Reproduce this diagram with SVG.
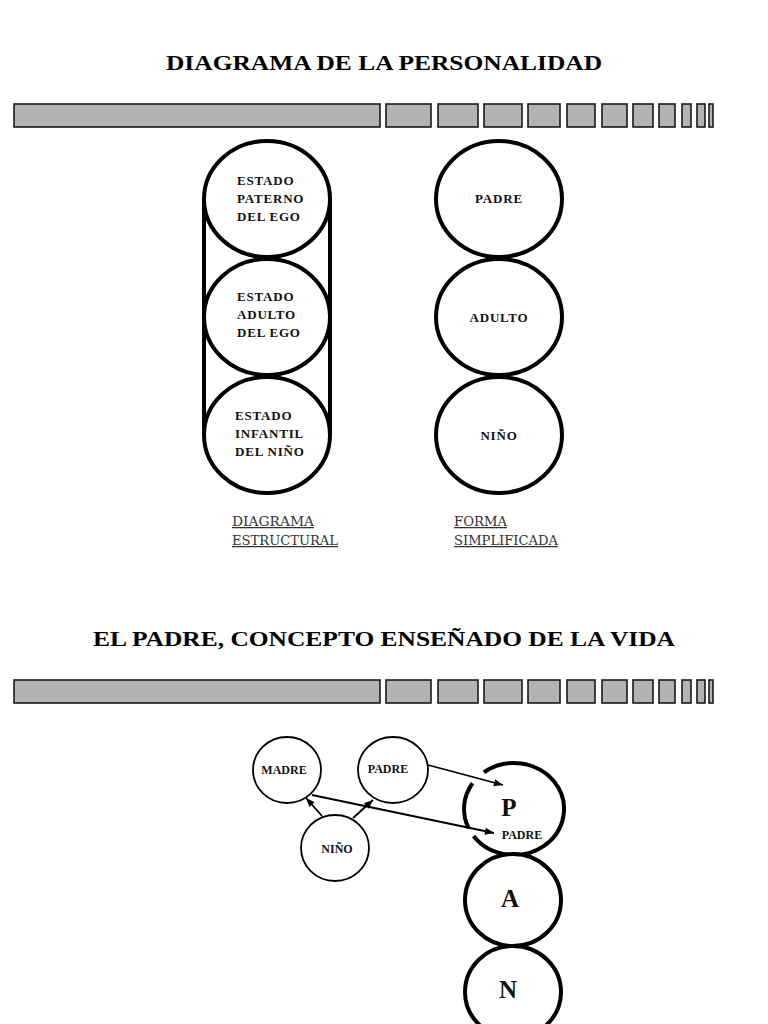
<svg xmlns="http://www.w3.org/2000/svg" width="768" height="1024" viewBox="0 0 768 1024">
<defs>
<style>
.title{font-family:"Liberation Serif",serif;font-weight:bold;font-size:22px;fill:#000;text-anchor:middle}
.seg{fill:#b3b3b3;stroke:#1a1a1a;stroke-width:1.6}
.big{fill:#fff;stroke:#000;stroke-width:4}
.lbl{font-family:"Liberation Serif",serif;font-weight:bold;font-size:13px;fill:#111;letter-spacing:0.8px}
.mid{text-anchor:middle}
.cap{font-family:"DejaVu Serif",serif;font-size:12.5px;fill:#333;text-decoration:underline}
.small{fill:#fff;stroke:#000;stroke-width:1.8}
.sl{font-family:"Liberation Serif",serif;font-weight:bold;font-size:12px;fill:#111;text-anchor:middle}
.con{stroke:#000;stroke-width:1.8;fill:none;marker-end:url(#ah)}
.arc{fill:none;stroke:#000;stroke-width:4}
.letter{font-family:"Liberation Serif",serif;font-weight:bold;font-size:25px;fill:#111;text-anchor:middle}
</style>
<marker id="ah" viewBox="0 0 10 10" refX="10" refY="5" markerWidth="11" markerHeight="9" orient="auto" markerUnits="userSpaceOnUse">
<path d="M0,1 L10,5 L0,9 Z" fill="#000"/>
</marker>
<g id="barshape">
<rect class="seg" x="14" y="0" width="366" height="23"/>
<rect class="seg" x="386" y="0" width="45" height="23"/>
<rect class="seg" x="438" y="0" width="40" height="23"/>
<rect class="seg" x="484" y="0" width="38" height="23"/>
<rect class="seg" x="528" y="0" width="32" height="23"/>
<rect class="seg" x="567" y="0" width="28" height="23"/>
<rect class="seg" x="602" y="0" width="25" height="23"/>
<rect class="seg" x="633" y="0" width="20" height="23"/>
<rect class="seg" x="659" y="0" width="16" height="23"/>
<rect class="seg" x="682" y="0" width="9" height="23"/>
<rect class="seg" x="697" y="0" width="8" height="23"/>
<rect class="seg" x="709" y="0" width="4" height="23"/>
</g>
</defs>
<rect width="768" height="1024" fill="#fff"/>

<text class="title" x="384" y="70" textLength="436" lengthAdjust="spacingAndGlyphs">DIAGRAMA DE LA PERSONALIDAD</text>
<use href="#barshape" x="0" y="104"/>

<g id="estructural">
<line x1="204" y1="199" x2="204" y2="435" stroke="#000" stroke-width="4"/>
<line x1="330" y1="199" x2="330" y2="435" stroke="#000" stroke-width="4"/>
<g id="paterno">
<ellipse class="big" cx="267" cy="199" rx="63" ry="58"/>
<text class="lbl" x="237" y="185">ESTADO</text>
<text class="lbl" x="237" y="203">PATERNO</text>
<text class="lbl" x="237" y="221">DEL EGO</text>
</g>
<g id="adulto-ego">
<ellipse class="big" cx="267" cy="317" rx="63" ry="58"/>
<text class="lbl" x="237" y="301">ESTADO</text>
<text class="lbl" x="237" y="319">ADULTO</text>
<text class="lbl" x="237" y="337">DEL EGO</text>
</g>
<g id="infantil">
<ellipse class="big" cx="267" cy="435" rx="63" ry="58"/>
<text class="lbl" x="235" y="420">ESTADO</text>
<text class="lbl" x="235" y="438">INFANTIL</text>
<text class="lbl" x="235" y="456">DEL NIÑO</text>
</g>
</g>

<g id="simplificada">
<g id="s-padre">
<ellipse class="big" cx="499" cy="199" rx="63" ry="58"/>
<text class="lbl mid" x="499" y="203">PADRE</text>
</g>
<g id="s-adulto">
<ellipse class="big" cx="499" cy="317" rx="63" ry="58"/>
<text class="lbl mid" x="499" y="322">ADULTO</text>
</g>
<g id="s-nino">
<ellipse class="big" cx="499" cy="435" rx="63" ry="58"/>
<text class="lbl mid" x="499" y="440">NIÑO</text>
</g>
</g>

<text class="cap" x="232" y="526" textLength="82" lengthAdjust="spacingAndGlyphs">DIAGRAMA</text>
<text class="cap" x="232" y="545" textLength="106" lengthAdjust="spacingAndGlyphs">ESTRUCTURAL</text>
<text class="cap" x="454" y="526" textLength="53" lengthAdjust="spacingAndGlyphs">FORMA</text>
<text class="cap" x="454" y="545" textLength="104" lengthAdjust="spacingAndGlyphs">SIMPLIFICADA</text>

<text class="title" x="384" y="646" textLength="582" lengthAdjust="spacingAndGlyphs">EL PADRE, CONCEPTO ENSEÑADO DE LA VIDA</text>
<use href="#barshape" x="0" y="680"/>

<g id="madre">
<ellipse class="small" cx="287" cy="770" rx="34" ry="33"/>
<text class="sl" x="284" y="774">MADRE</text>
</g>
<g id="padre">
<ellipse class="small" cx="393" cy="770" rx="35" ry="33"/>
<text class="sl" x="388" y="773">PADRE</text>
</g>
<g id="nino">
<ellipse class="small" cx="335" cy="848" rx="34" ry="33"/>
<text class="sl" x="337" y="853">NIÑO</text>
</g>

<g id="p-node">
<path class="arc" d="M483.9 772.3 A50 46 0 1 1 473.5 836.0"/>
<path class="arc" d="M468.7 828.4 A50 46 0 0 1 472.5 783.3"/>
<text class="letter" x="509" y="816">P</text>
<text class="sl" x="522" y="839">PADRE</text>
</g>
<g id="a-node">
<ellipse class="big" cx="513" cy="900" rx="48" ry="46"/>
<text class="letter" x="510" y="907">A</text>
</g>
<g id="n-node">
<ellipse class="big" cx="513" cy="992" rx="48" ry="46"/>
<text class="letter" x="508" y="998">N</text>
</g>

<g id="connectors">
<line class="con" x1="428" y1="765" x2="503" y2="785"/>
<line class="con" x1="312" y1="795" x2="494" y2="833"/>
<line class="con" x1="322" y1="816" x2="306" y2="798"/>
<line class="con" x1="353" y1="818" x2="373" y2="800"/>
</g>
</svg>
